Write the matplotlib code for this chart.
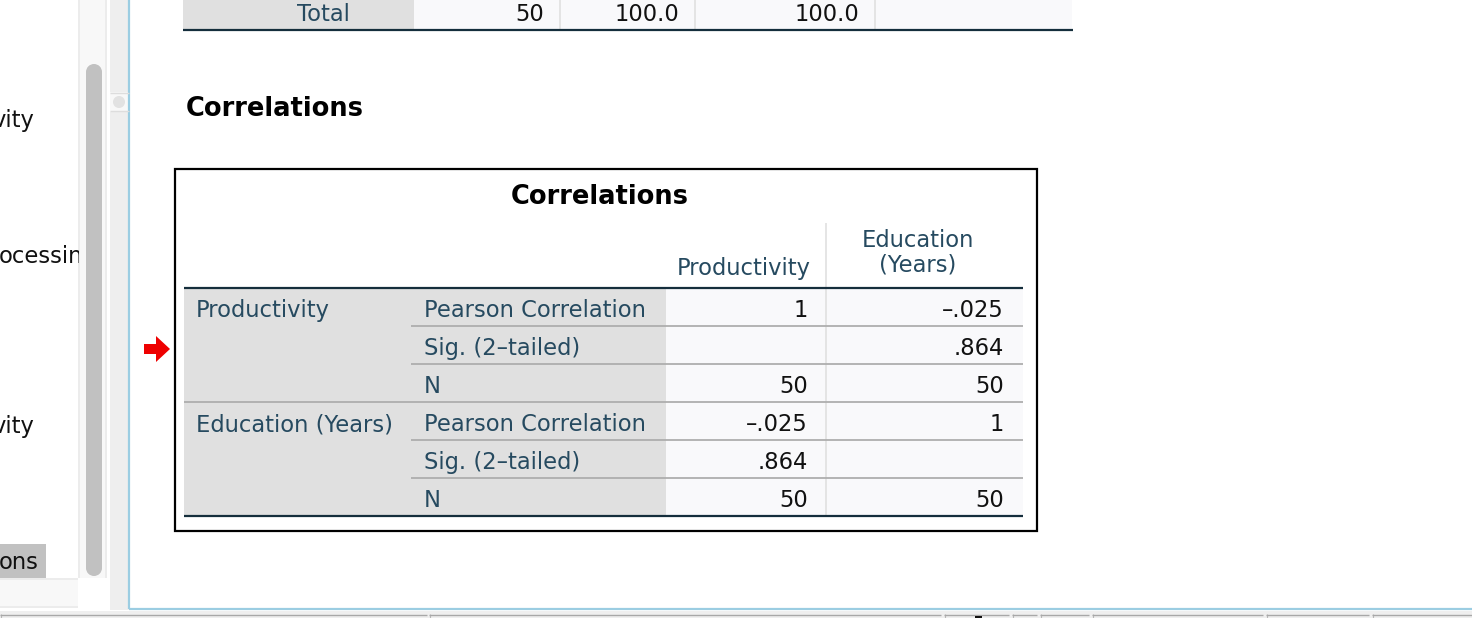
import matplotlib.pyplot as plt
from matplotlib.patches import Rectangle, Circle, Polygon

plt.rcParams["font.family"] = ["DejaVu Sans"]

# table contents
row_groups = ["Productivity", "Education (Years)"]
row_stats = ["Pearson Correlation", "Sig. (2-tailed)", "N"] * 2
col_productivity = ["1", "", "50", "-.025", ".864", "50"]
col_education = ["-.025", ".864", "50", "1", "", "50"]
total_row = ["50", "100.0", "100.0"]
sidebar_labels = ["vity", "ocessing", "vity", "ons"]

TEAL = "#264a60"
DARK = "#152e3c"
GRID = "#aeaeae"
HEAD = "#e0e0e0"
CELL = "#f9f9fb"
VLINE = "#e0e0e0"
BLUE = "#9bcde2"
FS = 16.3
BOLD_FS = 18.5

fig = plt.figure(figsize=(14.72, 6.18), dpi=100)
ax = fig.add_axes([0, 0, 1, 1])
ax.set_xlim(0, 1472)
ax.set_ylim(618, 0)
ax.axis("off")


def rect(x0, y0, x1, y1, color, z=1):
    ax.add_patch(Rectangle((x0, y0), x1 - x0, y1 - y0, fc=color, ec="none", zorder=z))


def hline(x0, x1, y, color, lw):
    ax.plot([x0, x1], [y, y], color=color, lw=lw, solid_capstyle="butt", zorder=3)


def vline(x, y0, y1, color, lw):
    ax.plot([x, x], [y0, y1], color=color, lw=lw, solid_capstyle="butt", zorder=2)


def label(x, y, s, ha="left", color=TEAL, **kw):
    kw.setdefault("fontsize", FS)
    return ax.text(x, y, s.replace("-", "\u2013"), ha=ha, va="baseline", color=color, zorder=5, **kw)


# window chrome
rect(78, 0, 107, 578, "#f8f8f8")
rect(0, 578, 78, 608, "#f8f8f8")
rect(0, 578, 78, 580, "#ececec")
rect(0, 606, 78, 608, "#ececec")
rect(78, 0, 80, 578, "#ececec", 2)
rect(105, 0, 107, 578, "#ececec")
rect(110, 0, 129, 610, "#eeeeee")
rect(110, 92, 129, 112, "#f8f8f8")
hline(110, 129, 92.5, "#dddddd", 1)
hline(110, 129, 111, "#dddddd", 1)
ax.add_patch(Circle((119, 102), 6, fc="#e2e2e2", ec="none", zorder=3))
ax.add_patch(Circle((94, 72), 8, fc="#c1c1c1", ec="none", zorder=2))
ax.add_patch(Rectangle((86, 72), 16, 496, fc="#c1c1c1", ec="none", zorder=2))
ax.add_patch(Circle((94, 568), 8, fc="#c1c1c1", ec="none", zorder=2))
vline(129, 0, 609, BLUE, 1.6)
hline(129, 1472, 608.5, BLUE, 1.6)

# bottom status strip
rect(0, 611, 1472, 618, "#efefef")
for x0, x1 in [(0, 427), (429, 941), (944, 1009), (1012, 1037), (1040, 1089),
               (1092, 1263), (1266, 1369), (1372, 1472)]:
    hline(x0, x1, 614.5, "#a8a8a8", 1)
    vline(x0 + 0.5, 614, 618, "#b8b8b8", 0.8)
rect(975, 616, 982, 618, "#111111", 4)

# sidebar, text runs under the panel edge
rect(0, 544, 46, 578, "#c1c1c1")
clip = Rectangle((0, 0), 79, 618, transform=ax.transData)
for lab, x, y, ha in zip(sidebar_labels, [34, -1, 34, 39], [127, 263, 433, 569],
                         ["right", "left", "right", "right"]):
    t = label(x, y, lab, ha=ha, color="#111111")
    t.set_clip_path(clip)
    t.set_clip_on(True)

# previous table, bottom row
rect(183, 0, 414, 29, HEAD)
rect(414, 0, 1072, 29, CELL)
for x in [560, 695, 875]:
    vline(x, 0, 29, VLINE, 1.2)
hline(183, 1073, 30, DARK, 1.6)
label(323, 21, "Total", ha="center")
for val, x in zip(total_row, [544, 679, 859]):
    label(x, 21, val, ha="right", color="#111111")

label(186, 116, "Correlations", color="black", fontsize=BOLD_FS, fontweight="bold")

# outer box
ax.add_patch(Rectangle((175.2, 169.2), 861.6, 361.3, fc="white", ec="black", lw=1.6, zorder=1))
label(600, 204, "Correlations", ha="center", color="black", fontsize=BOLD_FS, fontweight="bold")

# correlation table body
row_edges = [288, 326, 364, 402, 440, 478, 516]
rect(184, 288, 666, 516, HEAD)
rect(666, 288, 1023, 516, CELL)
vline(826, 223, 516, VLINE, 1.2)
label(744, 275, "Productivity", ha="center")
label(918, 247, "Education", ha="center")
label(918, 272, "(Years)", ha="center")

hline(184, 1023, row_edges[0], DARK, 1.6)
hline(184, 1023, row_edges[-1], DARK, 1.6)
hline(184, 1023, row_edges[3], GRID, 1.3)
for i in [1, 2, 4, 5]:
    hline(411, 1023, row_edges[i], GRID, 1.3)

for i, lab in enumerate(row_groups):
    label(196, row_edges[i * 3] + 29, lab)

for i in range(6):
    y = row_edges[i] + 29
    label(424, y, row_stats[i])
    label(808, y, col_productivity[i], ha="right", color="#111111")
    label(1004, y, col_education[i], ha="right", color="#111111")

# red arrow marker
ax.add_patch(Polygon([(144, 344), (156, 344), (156, 336), (170, 349), (156, 362), (156, 354), (144, 354)],
                     closed=True, fc="#ee0000", ec="none", zorder=5))

fig.savefig("out.png", dpi=100)
